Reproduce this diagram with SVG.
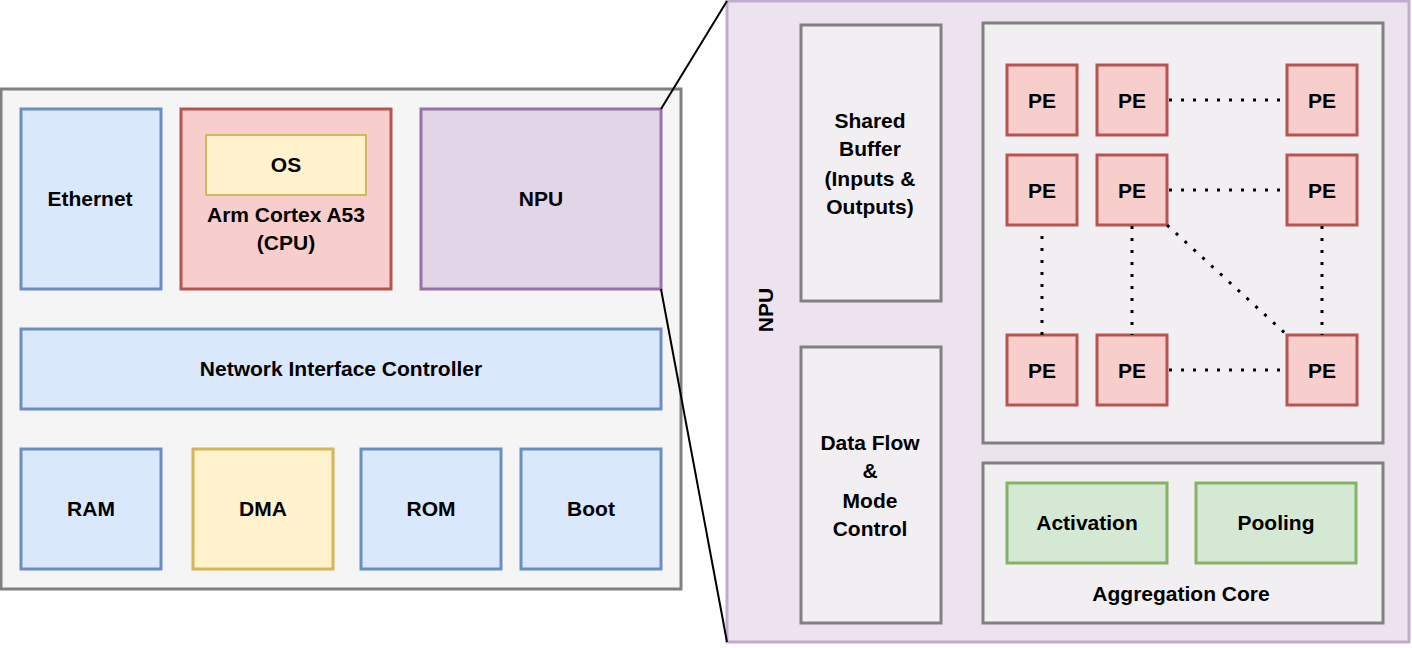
<svg xmlns="http://www.w3.org/2000/svg" width="1412" height="648" viewBox="0 0 1412 648">
<style>
text{font-family:"Liberation Sans",Arial,sans-serif;font-weight:bold;font-size:21px;fill:#000;text-anchor:middle;dominant-baseline:central}
.blue{fill:#dae8fc;stroke:#6c8ebf;stroke-width:3}
.red{fill:#f8cecc;stroke:#b85450;stroke-width:3}
.yel{fill:#fff2cc;stroke:#d6b656;stroke-width:2}
.yel3{fill:#fff2cc;stroke:#d6b656;stroke-width:3}
.pur{fill:#e1d5e7;stroke:#9673a6;stroke-width:3}
.grn{fill:#d5e8d4;stroke:#82b366;stroke-width:3}
.gray{fill:#f2eff3;stroke:#808080;stroke-width:3}
.dot{stroke:#000;stroke-width:3;stroke-dasharray:3 9;fill:none}
</style>
<g id="soc"><rect x="1" y="89" width="680" height="500" fill="#f5f5f5" stroke="#808080" stroke-width="3"/></g>
<g id="ethernet"><rect class="blue" x="21" y="109" width="140" height="180"/><text x="90" y="198">Ethernet</text></g>
<g id="cpu"><rect class="red" x="181" y="109" width="210" height="180"/><text x="286" y="214">Arm Cortex A53</text><text x="286" y="242">(CPU)</text></g>
<g id="os"><rect class="yel" x="206" y="135" width="160" height="60"/><text x="286" y="164">OS</text></g>
<g id="npu-small"><rect class="pur" x="421" y="109" width="240" height="180"/><text x="541" y="198">NPU</text></g>
<g id="nic"><rect class="blue" x="21" y="329" width="640" height="80"/><text x="341" y="368">Network Interface Controller</text></g>
<g id="ram"><rect class="blue" x="21" y="449" width="140" height="120"/><text x="91" y="508">RAM</text></g>
<g id="dma"><rect class="yel3" x="193" y="449" width="140" height="120"/><text x="263" y="508">DMA</text></g>
<g id="rom"><rect class="blue" x="361" y="449" width="140" height="120"/><text x="431" y="508">ROM</text></g>
<g id="boot"><rect class="blue" x="521" y="449" width="140" height="120"/><text x="591" y="508">Boot</text></g>
<g id="npu-big"><rect x="727" y="1" width="682" height="641" fill="#ede3ee" stroke="#c3abd0" stroke-width="3"/><text x="765" y="310" transform="rotate(-90 765 310)" font-size="24">NPU</text></g>
<g id="buffer"><rect class="gray" x="801" y="25" width="140" height="276"/><text x="870" y="120">Shared</text><text x="870" y="148">Buffer</text><text x="870" y="178">(Inputs &amp;</text><text x="870" y="206">Outputs)</text></g>
<g id="dataflow"><rect class="gray" x="801" y="347" width="140" height="276"/><text x="870" y="442">Data Flow</text><text x="870" y="470">&amp;</text><text x="870" y="500">Mode</text><text x="870" y="528">Control</text></g>
<g id="pe-array"><rect class="gray" x="983" y="23" width="400" height="420" stroke="#999"/></g>
<g id="aggregation"><rect class="gray" x="983" y="463" width="400" height="160" stroke="#999"/><text x="1181" y="593" font-size="24">Aggregation Core</text></g>
<g id="activation"><rect class="grn" x="1007" y="483" width="160" height="80"/><text x="1087" y="522">Activation</text></g>
<g id="pooling"><rect class="grn" x="1196" y="483" width="160" height="80"/><text x="1276" y="522">Pooling</text></g>
<g id="pes">
<rect class="red" x="1007" y="65" width="70" height="70"/><text x="1042" y="100">PE</text>
<rect class="red" x="1097" y="65" width="70" height="70"/><text x="1132" y="100">PE</text>
<rect class="red" x="1287" y="65" width="70" height="70"/><text x="1322" y="100">PE</text>
<rect class="red" x="1007" y="155" width="70" height="70"/><text x="1042" y="190">PE</text>
<rect class="red" x="1097" y="155" width="70" height="70"/><text x="1132" y="190">PE</text>
<rect class="red" x="1287" y="155" width="70" height="70"/><text x="1322" y="190">PE</text>
<rect class="red" x="1007" y="335" width="70" height="70"/><text x="1042" y="370">PE</text>
<rect class="red" x="1097" y="335" width="70" height="70"/><text x="1132" y="370">PE</text>
<rect class="red" x="1287" y="335" width="70" height="70"/><text x="1322" y="370">PE</text>
</g>
<g id="connectors">
<line x1="661" y1="109" x2="727" y2="1" stroke="#000" stroke-width="2"/>
<line x1="661" y1="289" x2="727" y2="642" stroke="#000" stroke-width="2"/>
<line class="dot" x1="1169" y1="100" x2="1287" y2="100"/>
<line class="dot" x1="1169" y1="190" x2="1287" y2="190"/>
<line class="dot" x1="1169" y1="370" x2="1287" y2="370"/>
<line class="dot" x1="1042" y1="236" x2="1042" y2="335"/>
<line class="dot" x1="1132" y1="226" x2="1132" y2="335"/>
<line class="dot" x1="1322" y1="226" x2="1322" y2="335"/>
<line class="dot" x1="1167" y1="225" x2="1287" y2="335"/>
</g>
</svg>
